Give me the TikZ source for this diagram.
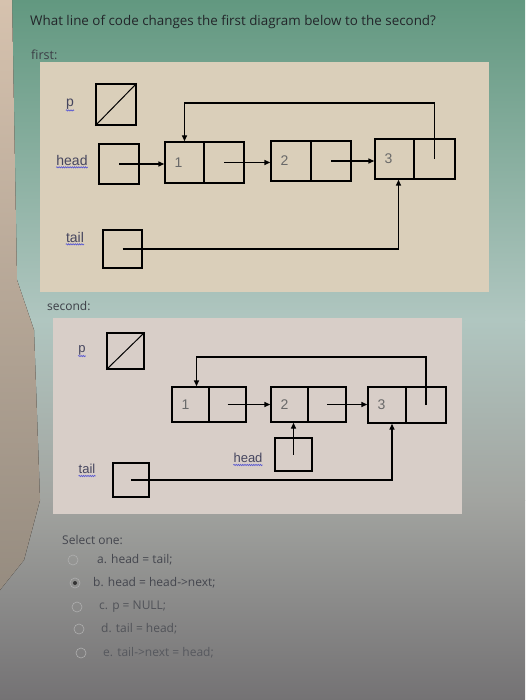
\documentclass[tikz,border=0pt]{standalone}
\usepackage{fontspec}
\setmainfont{Open Sans}
\newfontfamily\arialf{Liberation Sans}
\usetikzlibrary{arrows.meta,calc,decorations.pathmorphing}
\definecolor{bgA}{RGB}{98,152,128}
\definecolor{bgB}{RGB}{176,198,192}
\definecolor{bgC}{RGB}{162,164,160}
\definecolor{bgD}{RGB}{116,114,116}
\definecolor{edgeC}{RGB}{214,194,174}
\definecolor{edgeD}{RGB}{150,140,128}
\definecolor{panelA}{RGB}{218,207,186}
\definecolor{panelB}{RGB}{216,206,200}
\definecolor{txtA}{RGB}{35,38,42}
\definecolor{txtB}{RGB}{60,62,70}
\definecolor{lblC}{RGB}{70,70,95}
\definecolor{ulC}{RGB}{90,90,210}
\definecolor{numC}{RGB}{105,105,105}
\definecolor{optA}{RGB}{68,70,78}
\definecolor{optB}{RGB}{80,82,88}
\definecolor{optC}{RGB}{86,88,94}
\definecolor{radC}{RGB}{175,175,175}
\tikzset{
  cell/.style={draw=black, line width=1.4pt, inner sep=0pt, fill=none},
  lnk/.style={draw=black, line width=1.4pt, -{Triangle[length=6pt,width=5pt]}},
  lbl/.style={font=\arialf\fontsize{14}{14}\selectfont, text=lblC, inner sep=0pt},
  lbltwo/.style={font=\arialf\fontsize{13}{13}\selectfont, text=lblC, inner sep=0pt},
  num/.style={font=\arialf\fontsize{14}{14}\selectfont, text=numC, inner sep=0pt, anchor=west},
  wav/.style={draw=ulC, line width=0.7pt, decorate, decoration={snake, amplitude=0.6pt, segment length=2.2pt}},
  qtext/.style={font=\fontsize{13.4}{14}\selectfont, text=txtA, inner sep=0pt, anchor=west},
  otext/.style={font=\fontsize{12}{13}\selectfont, inner sep=0pt, anchor=west},
  radio/.style={circle, draw=radC, line width=0.6pt, minimum size=10pt, inner sep=0pt}
}
\begin{document}
\begin{tikzpicture}[x=1pt,y=-1pt]
\useasboundingbox (0,0) rectangle (525,700);
% background
\fill[top color=bgA, bottom color=bgB] (0,0) rectangle (525,320);
\fill[top color=bgB, bottom color=bgC] (0,320) rectangle (525,500);
\fill[top color=bgC, bottom color=bgD] (0,500) rectangle (525,700);
\fill[top color=edgeC, bottom color=edgeD] (0,0) -- (12,0) -- (17,280) -- (34,330) -- (40,500) -- (24,560) -- (0,590) -- cycle;
\fill[panelA] (40,62) rectangle (489,292);
\fill[panelB] (53,318) rectangle (462,514);

% texts
\node[qtext] (title) at (30,22) {What line of code changes the first diagram below to the second?};
\node[qtext, text=txtB, font=\fontsize{12.5}{13}\selectfont] (first) at (31,55) {first:};
\node[qtext, text=txtB, font=\fontsize{12}{13}\selectfont] (second) at (47,306) {second:};

% ---------- first diagram ----------
\node[lbl] (pl1) at (70,104) {p};
\node[lbl] (hl1) at (72,160) {head};
\node[lbl] (tl1) at (75,237) {tail};
\draw[wav] ($(pl1.south west)+(0,1)$) -- ($(pl1.south east)+(0,1)$);
\draw[wav] ($(hl1.south west)+(0,2)$) -- ($(hl1.south east)+(0,2)$);
\draw[wav] ($(tl1.south west)+(0,2)$) -- ($(tl1.south east)+(0,2)$);

\node[cell, minimum width=40pt, minimum height=41pt] (pb1) at (116,104.5) {};
\draw[line width=1pt] (pb1.south west) -- (pb1.north east);
\node[cell, minimum width=40pt, minimum height=40pt] (hb1) at (119,164) {};
\node[cell, minimum width=39pt, minimum height=38pt] (tb1) at (122.5,249) {};

\node[cell, minimum width=39pt, minimum height=41pt] (a1d) at (184.5,162.5) {};
\node[cell, minimum width=40pt, minimum height=41pt] (a1n) at (224,162.5) {};
\node[cell, minimum width=40pt, minimum height=40pt] (a2d) at (291,161) {};
\node[cell, minimum width=40pt, minimum height=40pt] (a2n) at (331,161) {};
\node[cell, minimum width=39pt, minimum height=40pt] (a3d) at (394.5,159) {};
\node[cell, minimum width=41pt, minimum height=40pt] (a3n) at (434.5,159) {};
\node[num] (a1t) at ($(a1d.west)+(10,0)$) {1};
\node[num] (a2t) at ($(a2d.west)+(10,0)$) {2};
\node[num] (a3t) at ($(a3d.west)+(10,0)$) {3};

\coordinate (top1) at (0,103);
\draw[lnk] (hb1.center) -- (hb1.center -| a1d.west);
\draw[lnk] (a1n.center) -- (a1n.center -| a2d.west);
\draw[lnk] (a2n.center) -- (a2n.center -| a3d.west);
\draw[lnk] (a3n.center) -- (a3n.center |- top1) -| (a1d.north);
\draw[lnk] (tb1.center) -| ($(a3d.south)+(4,0)$);

% ---------- second diagram ----------
\node[lbltwo] (pl2) at (82,350) {p};
\node[lbltwo] (hl2) at (248,458) {head};
\node[lbltwo] (tl2) at (87,469) {tail};
\draw[wav] ($(pl2.south west)+(0,1)$) -- ($(pl2.south east)+(0,1)$);
\draw[wav] ($(hl2.south west)+(0,2)$) -- ($(hl2.south east)+(0,2)$);
\draw[wav] ($(tl2.south west)+(0,2)$) -- ($(tl2.south east)+(0,2)$);

\node[cell, minimum width=37pt, minimum height=36pt] (pb2) at (125.5,351) {};
\draw[line width=1pt] (pb2.south west) -- (pb2.north east);
\node[cell, minimum width=37pt, minimum height=33pt] (hb2) at (293.5,454.5) {};
\node[cell, minimum width=36pt, minimum height=34pt] (tb2) at (131,480) {};

\node[cell, minimum width=37pt, minimum height=35pt] (b1d) at (190.5,404.5) {};
\node[cell, minimum width=37pt, minimum height=35pt] (b1n) at (227.5,404.5) {};
\node[cell, minimum width=37pt, minimum height=35pt] (b2d) at (289.5,404.5) {};
\node[cell, minimum width=38pt, minimum height=35pt] (b2n) at (327,404.5) {};
\node[cell, minimum width=38pt, minimum height=36pt] (b3d) at (387,405) {};
\node[cell, minimum width=40pt, minimum height=36pt] (b3n) at (426,405) {};
\node[num] (b1t) at ($(b1d.west)+(10,0)$) {1};
\node[num] (b2t) at ($(b2d.west)+(10,0)$) {2};
\node[num] (b3t) at ($(b3d.west)+(10,0)$) {3};

\coordinate (top2) at (0,357);
\draw[lnk] (b1n.center) -- (b1n.center -| b2d.west);
\draw[lnk] (b2n.center) -- (b2n.center -| b3d.west);
\draw[lnk] (b3n.center) -- (b3n.center |- top2) -| ($(b1d.north)+(6,0)$);
\draw[lnk] (hb2.center) -- (hb2.center |- b2d.south);
\draw[lnk] (tb2.center) -| ($(b3d.south)+(5,0)$);

% ---------- options ----------
\node[otext, text=optA] (sel) at (62,540) {Select one:};
\node[radio] (ra) at (73,560) {};
\node[radio] (rb) at (75,583) {};
\fill[black!80] (rb.center) circle (2pt);
\node[radio] (rc) at (77,607) {};
\node[radio] (rd) at (79,629) {};
\node[radio] (re) at (81,653) {};
\node[otext, text=optA] (oa) at (97,560) {a. head = tail;};
\node[otext, text=optA] (ob) at (93,583) {b. head = head->next;};
\node[otext, text=optB] (oc) at (99,607) {c. p = NULL;};
\node[otext, text=optB] (od) at (101,629) {d. tail = head;};
\node[otext, text=optC] (oe) at (103,653) {e. tail->next = head;};
\end{tikzpicture}
\end{document}
